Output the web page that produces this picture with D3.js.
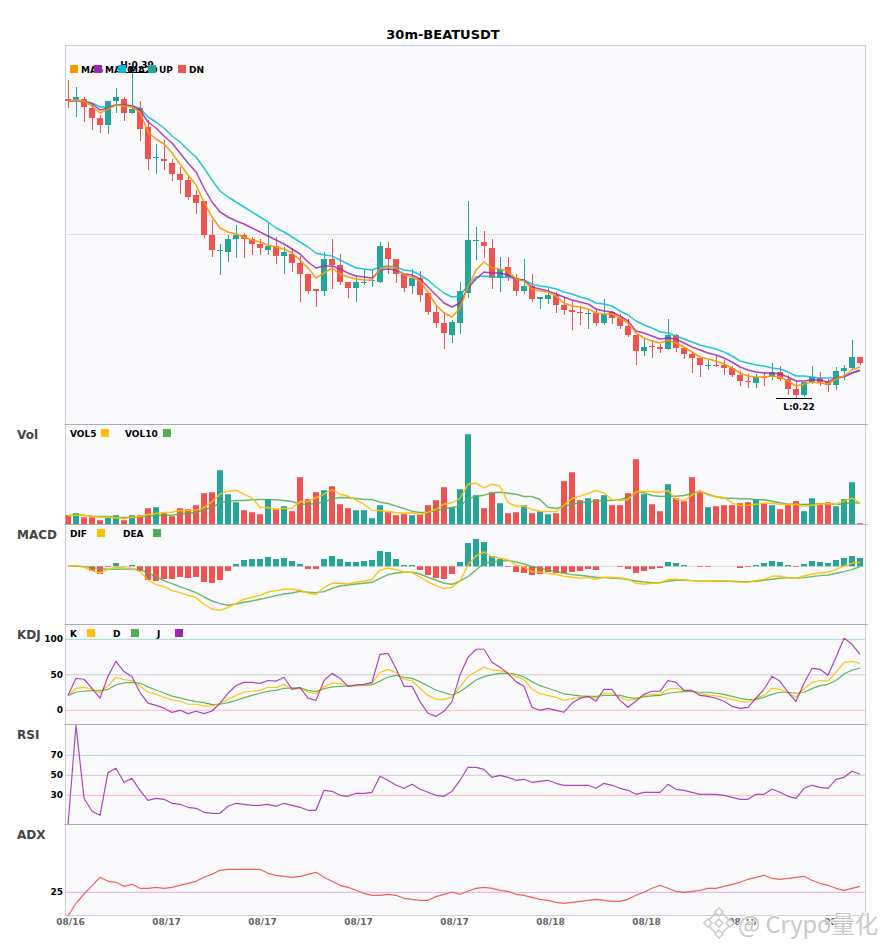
<!DOCTYPE html>
<html>
<head>
<meta charset="utf-8">
<script src="https://cdn.jsdelivr.net/npm/d3@7"></script>
<style>
body { margin: 0; background: #fff; }
text { font-family: "DejaVu Sans", sans-serif; }
</style>
</head>
<body>
<svg width="885" height="950"></svg>
<script>
const title = "30m-BEATUSDT";
const dateLabels = ["08/16", "08/17", "08/17", "08/17", "08/17", "08/18", "08/18", "08/18", "08/18"];
const dateTicks = [0, 12, 24, 36, 48, 60, 72, 84, 96];

const open = [0.368,0.367,0.368,0.3635,0.3585,0.355,0.367,0.368,0.361,0.3635,
0.354,0.3385,0.338,0.336,0.3305,0.3275,0.32,0.317,0.3,0.292,
0.2915,0.298,0.3,0.298,0.2955,0.2925,0.2945,0.2895,0.2905,0.286,
0.2805,0.273,0.272,0.288,0.285,0.2765,0.2735,0.276,0.277,0.2765,
0.2935,0.288,0.2805,0.2745,0.2785,0.271,0.2615,0.256,0.25,0.256,
0.271,0.297,0.2965,0.2935,0.2785,0.284,0.2785,0.272,0.2745,0.268,
0.268,0.27,0.265,0.2625,0.2615,0.2605,0.261,0.256,0.2615,0.2585,
0.2545,0.25,0.242,0.2445,0.244,0.243,0.25,0.2435,0.2405,0.2385,
0.2345,0.235,0.235,0.2335,0.23,0.227,0.226,0.229,0.229,0.2315,
0.228,0.223,0.22,0.2265,0.2285,0.2265,0.225,0.232,0.2335,0.239];
const close = [0.367,0.369,0.364,0.3585,0.355,0.367,0.369,0.361,0.363,0.353,
0.338,0.339,0.337,0.3305,0.3275,0.319,0.316,0.3,0.2925,0.2925,
0.298,0.3,0.298,0.2955,0.2935,0.2945,0.2895,0.2915,0.286,0.2805,
0.272,0.272,0.288,0.285,0.2765,0.2735,0.2765,0.2765,0.2775,0.2945,
0.288,0.2805,0.2735,0.2785,0.27,0.2615,0.256,0.251,0.2565,0.272,
0.2975,0.2975,0.2945,0.2785,0.283,0.2785,0.272,0.2745,0.268,0.269,
0.27,0.265,0.2625,0.2615,0.261,0.261,0.256,0.2605,0.2585,0.2545,
0.25,0.242,0.244,0.244,0.243,0.25,0.2435,0.2405,0.2385,0.235,
0.235,0.2345,0.2335,0.23,0.227,0.2265,0.229,0.2285,0.2315,0.228,
0.223,0.22,0.2265,0.229,0.2265,0.225,0.232,0.2335,0.239,0.236];
const high = [0.3775,0.374,0.369,0.366,0.36,0.367,0.3735,0.369,0.3815,0.367,
0.3575,0.3455,0.3475,0.338,0.334,0.33,0.3225,0.317,0.3075,0.2955,
0.3,0.305,0.301,0.299,0.298,0.3065,0.299,0.294,0.2935,0.2895,
0.2805,0.273,0.2915,0.298,0.2905,0.2765,0.28,0.2825,0.2825,0.2965,
0.2965,0.288,0.2805,0.283,0.282,0.271,0.265,0.2615,0.2575,0.2765,
0.317,0.304,0.302,0.298,0.289,0.289,0.2805,0.288,0.2805,0.269,
0.2735,0.2715,0.269,0.267,0.2645,0.263,0.263,0.268,0.262,0.2605,
0.258,0.25,0.248,0.2475,0.2455,0.258,0.2505,0.244,0.2415,0.2385,
0.238,0.2395,0.2375,0.2345,0.232,0.2305,0.2305,0.2315,0.236,0.2345,
0.23,0.2275,0.2265,0.2345,0.2315,0.228,0.234,0.235,0.2475,0.239];
const low = [0.3635,0.359,0.3565,0.3525,0.351,0.3505,0.361,0.357,0.3605,0.347,
0.3325,0.3305,0.3325,0.327,0.3205,0.3175,0.3105,0.2985,0.289,0.28,
0.2865,0.2885,0.2885,0.29,0.29,0.29,0.2855,0.2805,0.2815,0.2665,
0.2705,0.264,0.2695,0.273,0.275,0.2685,0.2665,0.275,0.274,0.276,
0.2805,0.276,0.2715,0.2705,0.2665,0.26,0.2535,0.243,0.246,0.2505,
0.2685,0.2875,0.2885,0.273,0.2715,0.277,0.2695,0.2705,0.2665,0.263,
0.2655,0.261,0.26,0.2525,0.255,0.253,0.2545,0.255,0.2555,0.253,
0.249,0.235,0.2395,0.2385,0.241,0.2425,0.2415,0.238,0.231,0.229,
0.2325,0.234,0.23,0.229,0.2245,0.2235,0.2235,0.2245,0.2275,0.227,
0.22,0.218,0.219,0.2255,0.2245,0.2215,0.2225,0.2275,0.2325,0.235];

const ma5 = [0.367,0.3675,0.367,0.3645,0.361,0.363,0.365,0.3645,0.364,0.3615,
0.3515,0.348,0.3455,0.341,0.3355,0.33,0.325,0.3165,0.309,0.3035,
0.3015,0.3005,0.299,0.2975,0.2965,0.295,0.294,0.293,0.291,0.2875,
0.2835,0.2785,0.281,0.2835,0.2805,0.279,0.278,0.2775,0.2775,0.283,
0.284,0.2835,0.28,0.279,0.277,0.2715,0.265,0.261,0.259,0.2635,
0.274,0.2825,0.2865,0.2835,0.283,0.282,0.278,0.277,0.273,0.272,
0.2715,0.2695,0.266,0.2645,0.264,0.263,0.261,0.2605,0.2605,0.2585,
0.256,0.251,0.2485,0.247,0.246,0.2475,0.246,0.244,0.2415,0.239,
0.238,0.237,0.2355,0.2335,0.231,0.2295,0.229,0.229,0.2295,0.229,
0.227,0.2245,0.2255,0.2265,0.226,0.2255,0.228,0.2295,0.2325,0.234];
const ma10 = [0.367,0.367,0.367,0.3655,0.3625,0.3635,0.365,0.365,0.3645,0.3625,
0.3565,0.3535,0.3495,0.346,0.341,0.336,0.3315,0.3235,0.3165,0.3115,
0.309,0.307,0.3055,0.3035,0.3015,0.2995,0.2975,0.2955,0.293,0.2905,
0.2865,0.2835,0.2845,0.2845,0.283,0.281,0.2795,0.279,0.2785,0.2825,
0.283,0.2825,0.2805,0.28,0.278,0.274,0.27,0.266,0.264,0.266,
0.2735,0.278,0.2815,0.281,0.281,0.28,0.278,0.2775,0.274,0.273,
0.272,0.2705,0.269,0.2675,0.2665,0.2655,0.263,0.262,0.2615,0.2595,
0.257,0.252,0.251,0.2495,0.248,0.2485,0.248,0.246,0.244,0.2425,
0.241,0.24,0.2385,0.2365,0.234,0.2325,0.2315,0.231,0.231,0.2305,
0.229,0.227,0.227,0.2275,0.2275,0.2265,0.2285,0.229,0.231,0.2325];
const ma20 = [0.367,0.3675,0.367,0.366,0.364,0.364,0.365,0.365,0.3645,0.3635,
0.359,0.3565,0.3535,0.3495,0.3465,0.3425,0.339,0.3335,0.3275,0.322,
0.319,0.3165,0.314,0.3115,0.309,0.3065,0.3035,0.3015,0.299,0.2965,
0.294,0.291,0.29,0.2895,0.2875,0.2855,0.2835,0.283,0.2825,0.284,
0.2845,0.284,0.2825,0.282,0.28,0.2775,0.274,0.271,0.269,0.2695,
0.275,0.279,0.2795,0.279,0.279,0.279,0.278,0.2775,0.2755,0.2745,
0.274,0.273,0.2715,0.2705,0.269,0.268,0.266,0.2655,0.2645,0.262,
0.26,0.257,0.255,0.2535,0.2515,0.251,0.2495,0.248,0.2465,0.245,
0.244,0.243,0.2415,0.2395,0.237,0.236,0.235,0.2345,0.2335,0.233,
0.2315,0.2295,0.2295,0.229,0.2285,0.2285,0.2285,0.2295,0.231,0.232];

const volume = [9.3,11.3,7.3,7.3,4.3,7.3,9.3,4.3,9.3,9.3,
16.3,17.3,11.3,8.3,16.3,15.3,19.3,31.3,32.3,54.3,
30.3,22.3,14.3,12.3,10.3,25.3,15.3,18.3,13.3,47.3,
25.3,32.3,34.3,38.3,20.3,16.3,14.3,14.3,6.3,19.3,
12.3,9.3,10.3,9.3,10.3,19.3,24.3,37.3,17.3,35.3,
90.3,29.3,16.3,32.3,21.3,11.3,12.3,19.3,11.3,13.3,
10.3,11.3,43.3,52.3,24.3,26.3,25.3,29.3,19.3,19.3,
31.3,65.3,30.3,20.3,13.3,40.3,26.3,23.3,47.3,32.3,
17.3,18.3,19.3,19.3,21.3,22.3,25.3,21.3,19.3,15.3,
20.3,23.3,13.3,26.3,20.3,22.3,18.3,25.3,42.3,1.3];
const vol5 = [8.7,9.3,9.3,8,7.3,7.3,6.7,5.7,7.3,8.3,
10,11,12,12.3,14,14,14.3,17,22.7,30.3,
33.3,34.3,30.3,26.7,17,17,15.3,16,16.3,22.7,
23,27,30.3,35,30.3,28.3,24.3,20.3,14.3,14,
13,12,11.3,11.7,10,12.3,15,20.3,21.7,26,
40.3,41.3,36.7,40.3,38.3,22,18,18.3,15,13.3,
13,13,19.3,26,28.3,31,34,31.7,25,24,
25,32.7,33,33,32,34,25.3,23.7,29.7,33.7,
29.3,28,27,21.7,19,19.3,20.3,21.3,21.3,20.3,
19.7,20.3,18.3,19.3,20.3,21,20.3,23.3,26.3,21.3];
const vol10 = [8.7,10,9.3,8.3,8,8,7.3,7,7.3,7.7,
8.3,9,9.3,9.3,10.7,11.3,12,15,17,21.7,
23.3,24,24,24.7,25,25,24.7,24,23,20.3,
20.3,21,22.7,25.3,27,26.7,26,25,25,22.3,
21,18.3,16,13.3,12,12.3,13.7,16,17,18.3,
26,28,29.3,31.7,32.3,31.3,30.3,28,28,25,
17.3,16,18.3,20.3,21.7,22.7,23.3,23.7,24.3,25,
27,32.3,31.7,29,28,28.3,28.3,29,31,33.3,
30.3,27.7,26.3,26.3,25.7,25.7,24.7,24.7,23.3,21.7,
20.3,20.3,20,20.3,20.7,20.7,20.3,20.3,22.3,21.3];

const macdHist = [0,0.5,0.3,-4.7,-7.7,-0.7,3.3,0.3,1.3,-4.7,
-13.7,-14.7,-12.7,-12.7,-10.7,-11.7,-10.7,-15.7,-16.7,-13.7,
-4.7,2.3,6.3,7.3,7.3,9.3,7.3,8.3,5.3,2.3,
-2.7,-2.7,7.3,10.3,7.3,4.3,4.3,5.3,6.3,15.3,
14.3,7.3,1.3,1.3,-3.7,-8.7,-11.7,-12.7,-7.7,4.3,
23.3,27.3,24.3,10.3,7.3,-0.7,-5.7,-6.7,-8.7,-7.7,
-5.7,-6.7,-6.7,-5.7,-4.7,-2.7,-3.7,0,0,-0.7,
-2.7,-6.7,-4.7,-2.7,-1.7,4.3,3.3,1.3,0,-0.7,
-0.7,0,0,0,-1.7,-0.7,1.3,3.3,5.3,4.3,
1.3,-0.7,2.3,5.3,4.3,3.3,6.3,8.3,10.3,8.3];
const macdDif = [0,0.7,-0.7,-4.3,-6.7,-3.3,-0.7,-1.7,-2,-5.3,
-13.7,-18.3,-20.3,-24.3,-26.3,-29,-31.3,-38,-42.7,-44,
-41,-37,-33,-31,-29,-25.7,-24.3,-23,-23,-24,
-26.7,-28.3,-21,-17,-17,-17.7,-15.7,-15,-13,-4,
-1.7,-3.3,-5.7,-6.3,-10.7,-15.7,-19,-22.3,-21,-14.7,
1.3,10.3,14.3,9.3,8.3,6.3,1.3,-0.7,-5.3,-6,
-7,-8,-10,-11,-12,-11.3,-13,-11,-11,-11.7,
-12.7,-17,-18,-17,-16.7,-13,-13,-13.7,-14.3,-15,
-15,-14.7,-14.3,-15.3,-16,-16,-14.3,-13,-10,-10,
-11.3,-12,-9.7,-7.7,-6.7,-5.7,-3,0.3,3,4];
const macdDea = [0,0,-0.3,-1.3,-2.3,-3,-3,-2.7,-2.7,-3.3,
-6.7,-10.3,-14.3,-17.3,-20.3,-23.3,-26.3,-30.7,-34.7,-37.3,
-39,-37.7,-36,-34.7,-33,-31.3,-29.3,-27.7,-26.7,-25,
-26,-26.3,-25.3,-22,-19.7,-18.7,-17.7,-17,-16,-12,
-8.3,-6.7,-6,-6,-7.7,-11,-13.7,-17,-18,-14.7,
-10.3,-3.7,3,4.3,5.3,5.7,4.3,2.3,-0.3,-2,
-3.7,-5.3,-7,-8.3,-9,-10,-11,-11.3,-11.7,-12.3,
-13.3,-14.7,-15.7,-16.3,-16.3,-15,-14,-14,-14.3,-15,
-15,-15,-15,-15,-15.3,-15.3,-15,-14,-13,-12,
-11.3,-12,-11.3,-10.3,-9.3,-8.7,-7,-5.3,-3.3,-0.3];

const kdjK = [20.7,31,32.4,30,24.4,34.7,46.5,43,41.8,34.3,
25.8,22.5,18.3,14.6,12.7,8.5,8.5,6,6,10,
15,21,25.8,26.8,28,32.4,32,36.6,29.6,31,
25.8,23,33.3,38,38,34.3,34.7,35.7,38,53.5,
57.7,53,43.7,41.3,31,21,15.5,15.5,18.3,33.3,
47.4,54.5,60.6,56.8,55.9,53,47.4,43.7,29.6,23.5,
21,18.3,14,16.4,18.3,18.8,17.4,24,24,18.3,
14,15.5,20.2,22.5,22.5,30,31,27.7,27.2,23.5,
21.6,20.2,18.3,15.5,12.7,11.3,17,21,31,29.6,
24.4,18.8,30,39.4,42,41.3,53.5,67.6,69,66.2];
const kdjD = [20.7,25.8,26.8,27.7,27.7,29.6,35.7,38.5,39.4,38,
33,28.6,24.4,20,17.4,14.6,12.2,10.8,8,8.5,
10.8,14,17.8,21,24,26.8,28,31,31.5,31.5,
28,26.3,30.5,32.9,33.8,34.3,34.7,35.2,35.7,41.3,
46.5,49.3,46.5,45,40.4,34.3,28.6,24.9,21.6,26.3,
34.3,42.7,47.4,50.2,52,52,50.7,47,40.4,34.7,
31,27.2,23,21.6,20.2,19.7,19.7,21,21,21,
18.3,16.9,18.8,20.2,21,24,25.4,26.3,26.3,25.4,
25.4,24,22.5,19.7,16.9,15,15.5,18.3,22.5,25.4,
25.4,24,25.4,30.5,34.7,36.6,42,51.2,56.8,59.2];
const kdjJ = [20.7,45,43.7,31,17,48,69,54.5,47.4,25,
10,7,3,-3,0,-4.7,-1.4,-4.7,-1,10,
24,35,39.4,39.4,38,42,41,46.5,29.6,32,
17,14,42,52,45,33.8,35.7,36.6,39.4,78.9,
80.3,59,33.8,33.8,12.2,-4.2,-8.5,-1.4,12.2,49.8,
74.6,86,86,67.6,60.6,52,40.4,33.8,4.2,0,
2.8,0,-2.8,10,17,19.7,13,29.6,29.6,14,
4.2,13,22.5,26.8,26.8,42,39.4,28,28,21,
19.7,17,12.7,5.6,2.8,4.2,17,29.6,47.9,40.8,
25.4,12.7,38,59,57.7,49.3,74.6,101.4,93,78.9];

const rsi = [0.3,100,27,14,10,52.7,57,43,47,35,
25,27,26,22,21,18,17,13,12,12,
19,22,21,20,20,21,19,22,20,18,
15,15,35,34,30,29,32,32,33,49,
45,40,37,41,36,33,30,29,34,45,
58,58,56,48,50,48,45,46,43,44,
45,42,40,40,40,40,37,42,40,37,
35,31,33,33,33,41,36,35,33,31,
31,31,30,28,26,26,31,31,36,33,
29,27,37,40,38,37,46,48,54,51];

const adx = [1.3,14,23.3,31.7,40,36,35,31,33,29,
29,30,29,30,32,34,36,40,43,47,
48,48,48,48,48,44,42,41,40,41,
43,45,40,36,32,30,27,24,22,22,
23,22,19,18,17,17,20.7,23,25.3,23,
26,29,30,29,27,26,23,22,20,18,
17,15,14,15,16,17,18,17,16,16,
18,22,25,29,32,29,26,25,26,27,
29,29,31,33,35,38,40,42,39,38,
39,40,41,37,34,32,29,27,29,31];

const UP = "#26A69A", DN = "#EF5350";
const svg = d3.select("svg");
const x = d3.scaleLinear().domain([0, 99]).range([68, 860]);
const left = 65.5, right = 865.5;

const yPrice = d3.scaleLinear().domain([0.2055, 0.395]).range([424, 45]);
const yVol = d3.scaleLinear().domain([0, 100]).range([524.5, 424.5]);
const yMacd = d3.scaleLinear().domain([-58, 42]).range([624.3, 524.3]);
const yKdj = d3.scaleLinear().domain([0, 100]).range([710.3, 639.3]);
const yRsi = d3.scaleLinear().domain([0, 100]).range([825.3, 725.3]);
const yAdx = d3.scaleLinear().domain([0, 50]).range([917.3, 867.3]);

// panel background and frame
svg.append("rect").attr("x", left).attr("y", 45.5).attr("width", right - left).attr("height", 870)
    .attr("fill", "#fafafd").attr("stroke", "#cdcdd8");

// horizontal reference lines
function hline(yv, color) {
    svg.append("line").attr("x1", left).attr("x2", right).attr("y1", yv).attr("y2", yv)
        .attr("stroke", color).attr("stroke-width", 1);
}
hline(Math.round(yPrice(0.3)) - 0.5, "#dddde2");
hline(yMacd(0), "#dddddd");
hline(yKdj(100), "#a6dcd6"); hline(yKdj(50), "#cccccc"); hline(yKdj(0), "#ffb9b9");
hline(yRsi(70), "#a6dcd6"); hline(yRsi(50), "#cccccc"); hline(yRsi(30), "#ffb9b9");
hline(yAdx(25), "#dfaee6");

[[45, 424], [424, 524], [524, 624], [624, 724], [724, 824], [824, 915]].forEach(function (r, i) {
    svg.append("clipPath").attr("id", "clip" + i).append("rect")
        .attr("x", left).attr("y", r[0]).attr("width", right - left).attr("height", r[1] - r[0] + 1);
});

function drawLine(series, yScale, color, clip, width, alpha) {
    svg.append("path")
        .attr("clip-path", "url(#clip" + clip + ")")
        .attr("fill", "none")
        .attr("stroke", color)
        .attr("stroke-width", width)
        .attr("stroke-opacity", alpha)
        .attr("stroke-linejoin", "round")
        .attr("d", d3.line().x(function (d, i) { return x(i); }).y(function (d) { return yScale(d); })(series));
}

// candles
const idx = d3.range(close.length);
const candles = svg.append("g").attr("clip-path", "url(#clip0)");
candles.selectAll("line").data(idx).enter().append("line")
    .attr("x1", function (i) { return x(i) + 0.5; })
    .attr("x2", function (i) { return x(i) + 0.5; })
    .attr("y1", function (i) { return yPrice(high[i]); })
    .attr("y2", function (i) { return yPrice(low[i]); })
    .attr("stroke", function (i) { return close[i] >= open[i] ? UP : DN; });
candles.selectAll("rect").data(idx).enter().append("rect")
    .attr("x", function (i) { return x(i) - 3; })
    .attr("width", 6)
    .attr("y", function (i) { return yPrice(Math.max(open[i], close[i])); })
    .attr("height", function (i) { return Math.max(1, Math.abs(yPrice(open[i]) - yPrice(close[i]))); })
    .attr("fill", function (i) { return close[i] >= open[i] ? UP : DN; });

drawLine(ma20, yPrice, "#00BCD4", 0, 1.5, 0.85);
drawLine(ma10, yPrice, "#9C27B0", 0, 1.5, 0.85);
drawLine(ma5, yPrice, "#FF9800", 0, 1.5, 0.95);

// volume
svg.append("g").attr("clip-path", "url(#clip1)").selectAll("rect").data(idx).enter().append("rect")
    .attr("x", function (i) { return x(i) - 3; })
    .attr("width", 6)
    .attr("y", function (i) { return yVol(volume[i]); })
    .attr("height", function (i) { return yVol(0) - yVol(volume[i]); })
    .attr("fill", function (i) { return close[i] >= open[i] ? UP : DN; });
drawLine(vol10, yVol, "#4CAF50", 1, 1.4, 0.85);
drawLine(vol5, yVol, "#FFC107", 1, 1.4, 0.95);

// macd
svg.append("g").attr("clip-path", "url(#clip2)").selectAll("rect").data(idx).enter().append("rect")
    .attr("x", function (i) { return x(i) - 3; })
    .attr("width", 6)
    .attr("y", function (i) { return yMacd(Math.max(0, macdHist[i])); })
    .attr("height", function (i) { return Math.abs(yMacd(macdHist[i]) - yMacd(0)); })
    .attr("fill", function (i) { return macdHist[i] >= 0 ? UP : DN; });
drawLine(macdDea, yMacd, "#4CAF50", 2, 1.4, 0.85);
drawLine(macdDif, yMacd, "#FFC107", 2, 1.4, 0.95);

// kdj, rsi, adx
drawLine(kdjD, yKdj, "#4CAF50", 3, 1.2, 0.9);
drawLine(kdjK, yKdj, "#FFC107", 3, 1.2, 0.95);
drawLine(kdjJ, yKdj, "#9C27B0", 3, 1.2, 0.85);
drawLine(rsi, yRsi, "#9C27B0", 4, 1.2, 0.85);
drawLine(adx, yAdx, "#F44336", 5, 1.2, 0.85);

// panel dividers
[424.5, 524.5, 624.5, 724.5, 824.5].forEach(function (yv) {
    svg.append("line").attr("x1", left - 1).attr("x2", right + 2).attr("y1", yv).attr("y2", yv)
        .attr("stroke", "#acacb4");
});

// date axis
const axis = d3.axisBottom(x).tickValues(dateTicks)
    .tickFormat(function (d, i) { return dateLabels[i]; }).tickSize(0).tickPadding(3);
const axisG = svg.append("g").attr("transform", "translate(2,915.5)").call(axis);
axisG.select(".domain").remove();
axisG.selectAll("text").attr("font-family", "DejaVu Sans").attr("font-size", 9)
    .attr("font-weight", "bold").attr("fill", "#666");

function label(txt, px, py, size, color, anchor) {
    svg.append("text").attr("x", px).attr("y", py).attr("font-size", size).attr("font-weight", "bold")
        .attr("fill", color).attr("text-anchor", anchor || "start").text(txt);
}
label(title, 443, 39, 13, "#000", "middle");
[["Vol", 439], ["MACD", 539], ["KDJ", 639], ["RSI", 739], ["ADX", 839]].forEach(function (p) {
    label(p[0], 17, p[1], 12, "#444");
});
[[100, yKdj], [50, yKdj], [0, yKdj], [70, yRsi], [50, yRsi], [30, yRsi], [25, yAdx]].forEach(function (p) {
    label(p[0], 63, p[1](p[0]) + 3, 9, "#000", "end");
});

// high and low marks
const hiY = yPrice(d3.max(high)), loY = yPrice(d3.min(low));
label("H:0.39", x(8) + 5, hiY - 4, 9, "#000", "middle");
label("L:0.22", x(91) + 3, loY + 11, 9, "#000", "middle");
svg.append("line").attr("x1", x(8) - 12).attr("x2", x(8) + 16).attr("y1", hiY + 0.5).attr("y2", hiY + 0.5).attr("stroke", "#000");
svg.append("line").attr("x1", x(91) - 20).attr("x2", x(91) + 16).attr("y1", loY - 0.5).attr("y2", loY - 0.5).attr("stroke", "#000");

function legend(items, ty) {
    items.forEach(function (it) {
        label(it[0], it[1], ty, 9, "#000");
        svg.append("rect").attr("x", it[2]).attr("y", ty - 7.5).attr("width", 8).attr("height", 8).attr("fill", it[3]);
    });
}
// price legend: box comes before its text, later boxes sit on earlier text
[["MA5", 81, 70, "#FF9800"], ["MA10", 105, 94, "#9C27B0"], ["MA20", 129, 118, "#00BCD4"],
 ["UP", 159, 148, UP], ["DN", 189, 178, DN]].forEach(function (it) {
    svg.append("rect").attr("x", it[2]).attr("y", 65).attr("width", 8).attr("height", 8).attr("fill", it[3]);
    label(it[0], it[1], 72.5, 9, "#000");
});
legend([["VOL5", 70, 101, "#FFC107"], ["VOL10", 125, 163, "#4CAF50"]], 436.5);
legend([["DIF", 70, 97, "#FFC107"], ["DEA", 123, 153, "#4CAF50"]], 536.5);
legend([["K", 70, 87, "#FFC107"], ["D", 113, 131, "#4CAF50"], ["J", 157, 175, "#9C27B0"]], 636.5);

// watermark
const wm = svg.append("g").attr("opacity", 0.9);
[[719, 923, 13], [719, 912, 4], [719, 934, 4], [708, 923, 4], [730, 923, 4], [719, 923, 4]].forEach(function (k) {
    wm.append("path")
        .attr("d", "M" + k[0] + "," + (k[1] - k[2]) + "L" + (k[0] + k[2]) + "," + k[1] + "L" + k[0] + "," + (k[1] + k[2]) + "L" + (k[0] - k[2]) + "," + k[1] + "Z")
        .attr("fill", k[2] === 13 ? "none" : "#fff")
        .attr("stroke", "#c8c8c8")
        .attr("stroke-width", 1.6);
});
wm.append("text").attr("x", 738).attr("y", 933).attr("font-size", 23.5)
    .style("font-family", "'Noto Sans CJK SC', 'Noto Sans', sans-serif")
    .attr("fill", "#c4c4c4").attr("stroke", "#fff").attr("stroke-width", 2)
    .attr("paint-order", "stroke").text("@ Crypo量化");
</script>
</body>
</html>
